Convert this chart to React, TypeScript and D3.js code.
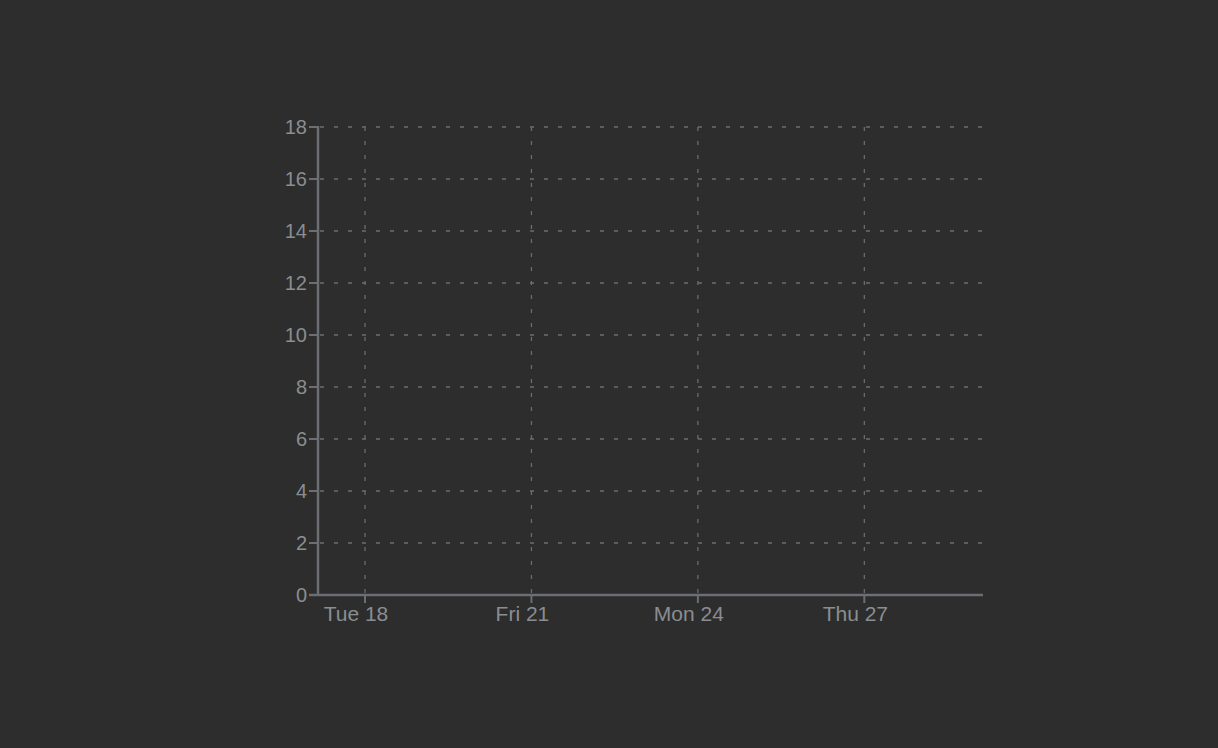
import { scaleLinear, scaleTime, timeFormat } from "d3";

// Empty chart: only axes and grid
const yTicks = [0, 2, 4, 6, 8, 10, 12, 14, 16, 18];
const xDomain = ["2024-06-17T03:40:00", "2024-06-29T03:20:00"];
const xTickDates = ["2024-06-18T00:00:00", "2024-06-21T00:00:00", "2024-06-24T00:00:00", "2024-06-27T00:00:00"];

const width = 1218;
const height = 748;
const margin = { top: 127, right: 235, bottom: 153, left: 318 };

const bg = "#2d2d2d";
const axisColor = "#6b6e72";
const textColor = "#8a8d91";
const gridColor = "#6c6c6c";

export default function App() {
  const x = scaleTime()
    .domain(xDomain.map((d) => new Date(d)))
    .range([margin.left, width - margin.right]);
  const y = scaleLinear()
    .domain([0, 18])
    .range([height - margin.bottom, margin.top]);
  const fmt = timeFormat("%a %d");
  const x0 = margin.left;
  const x1 = width - margin.right;
  const y0 = height - margin.bottom;

  return (
    <div style={{ position: "fixed", inset: 0, background: bg }}>
      <svg width={width} height={height} style={{ display: "block" }} fontFamily="'Liberation Sans', Arial, sans-serif">
        {/* grid */}
        {yTicks.map((t) => (
          <line
            key={`gy-${t}`}
            x1={x0 + 2}
            x2={x1}
            y1={y(t)}
            y2={y(t)}
            stroke={gridColor}
            strokeWidth={1.3}
            strokeDasharray="4,10"
          />
        ))}
        {xTickDates.map((d) => (
          <line
            key={`gx-${d}`}
            x1={x(new Date(d))}
            x2={x(new Date(d))}
            y1={y(18)}
            y2={y0}
            stroke={gridColor}
            strokeWidth={1.3}
            strokeDasharray="4,10"
          />
        ))}

        {/* y axis */}
        <line x1={x0} x2={x0} y1={y(18) - 1} y2={y0} stroke={axisColor} strokeWidth={2.5} />
        {yTicks.map((t) => (
          <g key={`ty-${t}`}>
            <line x1={x0 - 9} x2={x0} y1={y(t)} y2={y(t)} stroke={axisColor} strokeWidth={2} />
            <text x={x0 - 11} y={y(t)} dy="0.35em" textAnchor="end" fill={textColor} fontSize={20}>
              {t}
            </text>
          </g>
        ))}

        {/* x axis */}
        <line x1={x0 - 9} x2={x1} y1={y0} y2={y0} stroke={axisColor} strokeWidth={2.5} />
        {xTickDates.map((d) => {
          const xx = x(new Date(d));
          return (
            <g key={`tx-${d}`}>
              <line x1={xx} x2={xx} y1={y0} y2={y0 + 8} stroke={axisColor} strokeWidth={2} />
              <text x={xx - 9} y={y0 + 26} textAnchor="middle" fill={textColor} fontSize={21}>
                {fmt(new Date(d))}
              </text>
            </g>
          );
        })}
      </svg>
    </div>
  );
}
